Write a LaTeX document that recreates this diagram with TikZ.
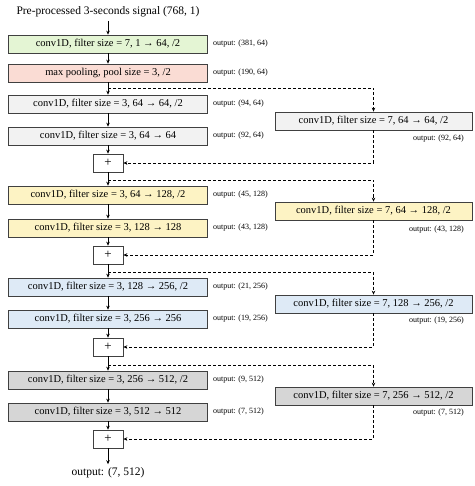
\documentclass[tikz,border=0pt]{standalone}
\usepackage{fontspec}
\setmainfont{Liberation Serif}
\usepackage{xcolor}
\usetikzlibrary{arrows.meta,positioning}

\definecolor{cgreen}{HTML}{E4F5D4}
\definecolor{cpink}{HTML}{FADCD4}
\definecolor{clgray}{HTML}{F2F2F2}
\definecolor{cyellow}{HTML}{FDF3C4}
\definecolor{cblue}{HTML}{DEEAF6}
\definecolor{cdgray}{HTML}{D6D6D6}

\begin{document}
\begin{tikzpicture}[
  x=1pt, y=-1pt,
  font=\fontsize{10.5}{12}\selectfont,
  box/.style={draw=black!75, minimum width=199pt, minimum height=18pt, inner sep=1pt, line width=0.7pt},
  rbox/.style={box, minimum width=197pt},
  plus/.style={draw=black!75, minimum width=30pt, minimum height=18pt, inner sep=0pt, line width=0.7pt, font=\fontsize{13}{13}\selectfont},
  outlbl/.style={font=\fontsize{8}{9}\selectfont, inner sep=1pt},
  bigtxt/.style={font=\fontsize{11.5}{13}\selectfont},
  arr/.style={-{Stealth[length=4pt,width=3.5pt]}, line width=0.9pt},
  skip/.style={arr, dash pattern=on 3pt off 2pt},
  node distance=4pt
]
\useasboundingbox (0,0) rectangle (474,486);

% ---------- Input and stem ----------
\node[bigtxt] (title) at (108,12) {Pre-processed 3-seconds signal (768, 1)};
\node[box, fill=cgreen] (stem) at (108,44) {conv1D, filter size = 7, 1 → 64, /2};
\node[outlbl, right=of stem] (outstem) {output: (381, 64)};
\node[box, fill=cpink] (pool) at (108,73) {max pooling, pool size = 3, /2};
\node[outlbl, right=of pool] (outpool) {output: (190, 64)};

% ---------- Block 1 (64) ----------
\coordinate (j1) at (108,88);
\node[box, fill=clgray] (a1) at (108,104) {conv1D, filter size = 3, 64 → 64, /2};
\node[outlbl, right=of a1] (outa1) {output: (94, 64)};
\node[box, fill=clgray] (b1) at (108,136) {conv1D, filter size = 3, 64 → 64};
\node[outlbl, right=of b1] (outb1) {output: (92, 64)};
\node[rbox, fill=clgray] (s1) at (373.5,121) {conv1D, filter size = 7, 64 → 64, /2};
\node[outlbl, anchor=east] (outs1) at (465,139) {output: (92, 64)};
\node[plus] (p1) at (108,163) {+};

% ---------- Block 2 (128) ----------
\coordinate (j2) at (108,180);
\node[box, fill=cyellow] (a2) at (108,195) {conv1D, filter size = 3, 64 → 128, /2};
\node[outlbl, right=of a2] (outa2) {output: (45, 128)};
\node[box, fill=cyellow] (b2) at (108,228) {conv1D, filter size = 3, 128 → 128};
\node[outlbl, right=of b2] (outb2) {output: (43, 128)};
\node[rbox, fill=cyellow] (s2) at (373.5,211) {conv1D, filter size = 7, 64 → 128, /2};
\node[outlbl, anchor=east] (outs2) at (465,230) {output: (43, 128)};
\node[plus] (p2) at (108,255) {+};

% ---------- Block 3 (256) ----------
\coordinate (j3) at (108,272);
\node[box, fill=cblue] (a3) at (108,287) {conv1D, filter size = 3, 128 → 256, /2};
\node[outlbl, right=of a3] (outa3) {output: (21, 256)};
\node[box, fill=cblue] (b3) at (108,319) {conv1D, filter size = 3, 256 → 256};
\node[outlbl, right=of b3] (outb3) {output: (19, 256)};
\node[rbox, fill=cblue] (s3) at (373.5,304) {conv1D, filter size = 7, 128 → 256, /2};
\node[outlbl, anchor=east] (outs3) at (465,321) {output: (19, 256)};
\node[plus] (p3) at (108,347) {+};

% ---------- Block 4 (512) ----------
\coordinate (j4) at (108,365);
\node[box, fill=cdgray] (a4) at (108,380) {conv1D, filter size = 3, 256 → 512, /2};
\node[outlbl, right=of a4] (outa4) {output: (9, 512)};
\node[box, fill=cdgray] (b4) at (108,412) {conv1D, filter size = 3, 512 → 512};
\node[outlbl, right=of b4] (outb4) {output: (7, 512)};
\node[rbox, fill=cdgray] (s4) at (373.5,396) {conv1D, filter size = 7, 256 → 512, /2};
\node[outlbl, anchor=east] (outs4) at (465,413) {output: (7, 512)};
\node[plus] (p4) at (108,439) {+};

\node[bigtxt] (final) at (108,473) {output: (7, 512)};

% ---------- Arrows: main path ----------
\draw[arr] (title) -- (stem);
\draw[arr] (stem) -- (pool);
\draw[arr] (pool) -- (a1);
\draw[arr] (a1) -- (b1);
\draw[arr] (b1) -- (p1);
\draw[arr] (p1) -- (a2);
\draw[arr] (a2) -- (b2);
\draw[arr] (b2) -- (p2);
\draw[arr] (p2) -- (a3);
\draw[arr] (a3) -- (b3);
\draw[arr] (b3) -- (p3);
\draw[arr] (p3) -- (a4);
\draw[arr] (a4) -- (b4);
\draw[arr] (b4) -- (p4);
\draw[arr] (p4) -- (final);

% ---------- Arrows: shortcut path (dashed) ----------
\draw[skip] (j1) -| (s1);
\draw[skip] (s1) |- (p1);
\draw[skip] (j2) -| (s2);
\draw[skip] (s2) |- (p2);
\draw[skip] (j3) -| (s3);
\draw[skip] (s3) |- (p3);
\draw[skip] (j4) -| (s4);
\draw[skip] (s4) |- (p4);

\end{tikzpicture}
\end{document}
